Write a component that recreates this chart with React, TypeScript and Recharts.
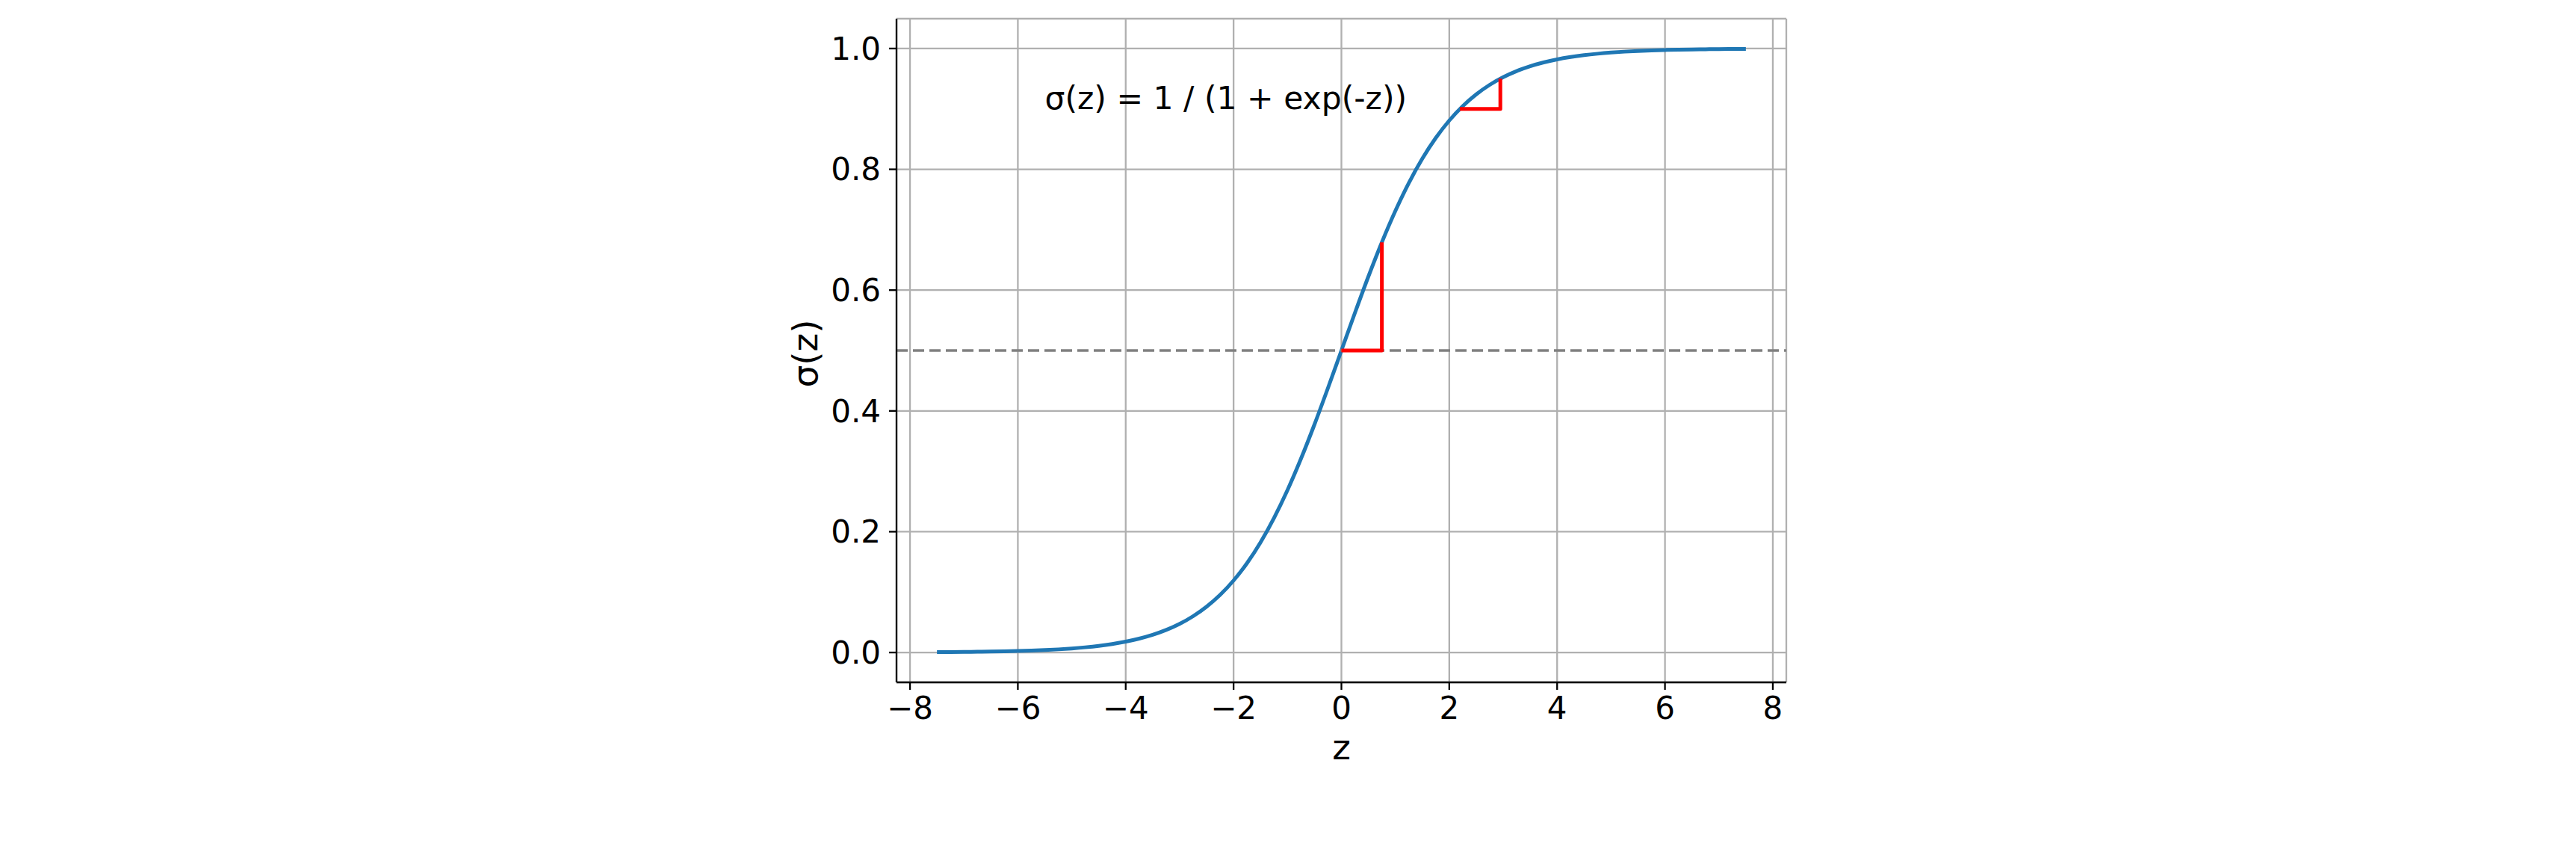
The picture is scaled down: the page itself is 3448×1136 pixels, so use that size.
import React from 'react';
import { LineChart, Line, XAxis, YAxis, CartesianGrid, ReferenceLine, ReferenceDot } from 'recharts';

// Sigmoid curve
const zValues = [
  -7.5, -7.25, -7, -6.75, -6.5, -6.25, -6, -5.75, -5.5, -5.25, -5, -4.75, -4.5, -4.25, -4, -3.75,
  -3.5, -3.25, -3, -2.75, -2.5, -2.25, -2, -1.75, -1.5, -1.25, -1, -0.75, -0.5, -0.25, 0,
  0.25, 0.5, 0.75, 1, 1.25, 1.5, 1.75, 2, 2.25, 2.5, 2.75, 3, 3.25, 3.5, 3.75, 4,
  4.25, 4.5, 4.75, 5, 5.25, 5.5, 5.75, 6, 6.25, 6.5, 6.75, 7, 7.25, 7.5,
];
const sigmaValues = [
  0.0006, 0.0007, 0.0009, 0.0012, 0.0015, 0.0019, 0.0025, 0.0032, 0.0041, 0.0052, 0.0067, 0.0086, 0.011, 0.0141, 0.018, 0.023,
  0.0293, 0.0373, 0.0474, 0.0601, 0.0759, 0.0953, 0.1192, 0.148, 0.1824, 0.2227, 0.2689, 0.3208, 0.3775, 0.4378, 0.5,
  0.5622, 0.6225, 0.6792, 0.7311, 0.7773, 0.8176, 0.852, 0.8808, 0.9047, 0.9241, 0.9399, 0.9526, 0.9627, 0.9707, 0.977, 0.982,
  0.9859, 0.989, 0.9914, 0.9933, 0.9948, 0.9959, 0.9968, 0.9975, 0.9981, 0.9985, 0.9988, 0.9991, 0.9993, 0.9994,
];

// Red slope steps
const stepAz = [0, 0.75, 0.75];
const stepAs = [0.5, 0.5, 0.679];
const stepBz = [2.197, 2.947, 2.947];
const stepBs = [0.9, 0.9, 0.95];

const xTicks = [-8, -6, -4, -2, 0, 2, 4, 6, 8];
const yTicks = [0, 0.2, 0.4, 0.6, 0.8, 1.0];
const xDomain = [-8.25, 8.25];
const yDomain = [-0.0494, 1.0494];

const dashedLevel = 0.5;
const formulaText = 'σ(z) = 1 / (1 + exp(-z))';
const formulaZ = -5.5;
const formulaS = 0.9;
const xLabelText = 'z';
const yLabelText = 'σ(z)';

const toRows = (zs: number[], ss: number[]) => zs.map((z, i) => ({ z, s: ss[i] }));
const curveData = toRows(zValues, sigmaValues);
const stepAData = toRows(stepAz, stepAs);
const stepBData = toRows(stepBz, stepBs);

const FONT = 'DejaVu Sans';
const TICK_FONT = 42;
const TEXT_FONT = 42.5;
const LABEL_FONT = 47;
const LW = 2.3;
const SERIES_W = 5;

const fmtX = (v: number) => (v < 0 ? '\u2212' + Math.abs(v) : String(v));
const fmtY = (v: number) => v.toFixed(1);

const XLabel = (props: any) => {
  const vb = props.viewBox || {};
  return (
    <text x={vb.x + vb.width / 2} y={vb.y + 103} textAnchor="middle" fontFamily={FONT} fontSize={LABEL_FONT} fill="#000">
      {xLabelText}
    </text>
  );
};

const YLabel = (props: any) => {
  const vb = props.viewBox || {};
  const cx = vb.x + vb.width - 106;
  const cy = vb.y + vb.height / 2 + 4;
  return (
    <text x={cx} y={cy} transform={`rotate(-90 ${cx} ${cy})`} textAnchor="middle" fontFamily={FONT} fontSize={LABEL_FONT} fill="#000">
      {yLabelText}
    </text>
  );
};

const FormulaShape = (props: any) => (
  <text x={props.cx} y={props.cy} textAnchor="start" fontFamily={FONT} fontSize={TEXT_FONT} fill="#000">
    {formulaText}
  </text>
);

export default function App() {
  return (
    <div style={{ width: 3432, height: 1120 }}>
      <LineChart
        width={3432}
        height={1120}
        data={curveData}
        margin={{ top: 17, right: 1049, left: 0, bottom: 0 }}
      >
        <CartesianGrid xAxisId="main" yAxisId="main" stroke="#b0b0b0" strokeWidth={LW} />
        <XAxis
          xAxisId="main"
          dataKey="z"
          type="number"
          domain={xDomain}
          ticks={xTicks}
          allowDataOverflow
          tickFormatter={fmtX}
          height={215}
          tickSize={10}
          tickMargin={9}
          axisLine={{ stroke: '#000', strokeWidth: LW }}
          tickLine={{ stroke: '#000', strokeWidth: LW }}
          tick={{ fontFamily: FONT, fontSize: TICK_FONT, fill: '#000' }}
          label={<XLabel />}
        />
        <XAxis
          xAxisId="top"
          orientation="top"
          dataKey="z"
          type="number"
          domain={xDomain}
          ticks={xTicks}
          allowDataOverflow
          height={0}
          tick={false}
          tickLine={false}
          axisLine={{ stroke: '#000', strokeWidth: LW }}
        />
        <YAxis
          yAxisId="main"
          type="number"
          domain={yDomain}
          ticks={yTicks}
          allowDataOverflow
          tickFormatter={fmtY}
          width={1192}
          tickSize={10}
          tickMargin={11}
          axisLine={{ stroke: '#000', strokeWidth: LW }}
          tickLine={{ stroke: '#000', strokeWidth: LW }}
          tick={{ fontFamily: FONT, fontSize: TICK_FONT, fill: '#000' }}
          label={<YLabel />}
        />
        <YAxis
          yAxisId="right"
          orientation="right"
          type="number"
          domain={yDomain}
          ticks={yTicks}
          allowDataOverflow
          width={0}
          tick={false}
          tickLine={false}
          axisLine={{ stroke: '#000', strokeWidth: LW }}
        />
        <Line
          xAxisId="main"
          yAxisId="main"
          data={curveData}
          dataKey="s"
          type="monotone"
          stroke="#1f77b4"
          strokeWidth={SERIES_W}
          dot={false}
          activeDot={false}
          isAnimationActive={false}
        />
        <ReferenceLine
          xAxisId="main"
          yAxisId="main"
          y={dashedLevel}
          stroke="#808080"
          strokeWidth={3.5}
          strokeDasharray="15 7"
        />
        <Line
          xAxisId="main"
          yAxisId="main"
          data={stepAData}
          dataKey="s"
          type="linear"
          stroke="#ff0000"
          strokeWidth={SERIES_W}
          strokeLinejoin="round"
          dot={false}
          activeDot={false}
          isAnimationActive={false}
        />
        <Line
          xAxisId="main"
          yAxisId="main"
          data={stepBData}
          dataKey="s"
          type="linear"
          stroke="#ff0000"
          strokeWidth={SERIES_W}
          strokeLinejoin="round"
          dot={false}
          activeDot={false}
          isAnimationActive={false}
        />
        <ReferenceDot
          xAxisId="main"
          yAxisId="main"
          x={formulaZ}
          y={formulaS}
          r={0}
          shape={<FormulaShape />}
        />
      </LineChart>
    </div>
  );
}
